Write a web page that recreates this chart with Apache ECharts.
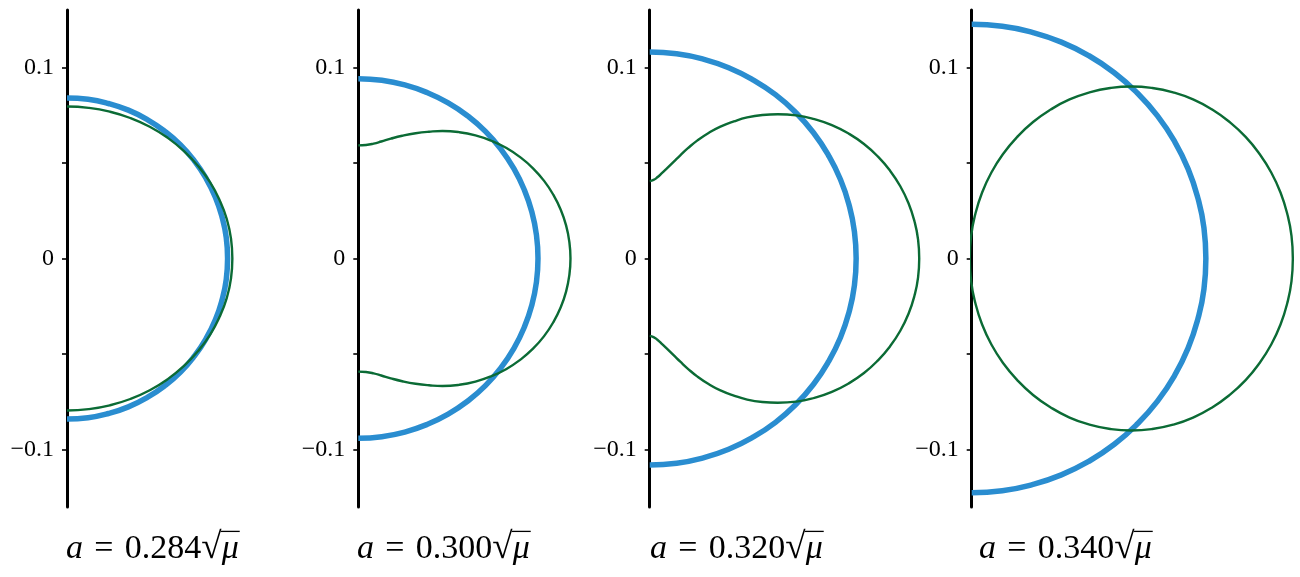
<!DOCTYPE html>
<html>
<head>
<meta charset="utf-8">
<script src="https://cdn.jsdelivr.net/npm/echarts@6/dist/echarts.min.js"></script>
<style>
    html, body { margin: 0; padding: 0; background: #fff; }
    #main { width: 1300px; height: 577px; }
</style>
</head>
<body>
<div id="main"></div>
<script>
// semicircle (blue) and boundary curve (green) for each value of a, [x, y]
var blue1 = [[0, 0.084], [0.011, 0.0833], [0.0217, 0.0811], [0.0321, 0.0776], [0.042, 0.0727], [0.0511, 0.0666], [0.0594, 0.0594],
    [0.0666, 0.0511], [0.0727, 0.042], [0.0776, 0.0321], [0.0811, 0.0217], [0.0833, 0.011], [0.084, 0],
    [0.0833, -0.011], [0.0811, -0.0217], [0.0776, -0.0321], [0.0727, -0.042], [0.0666, -0.0511], [0.0594, -0.0594],
    [0.0511, -0.0666], [0.042, -0.0727], [0.0321, -0.0776], [0.0217, -0.0811], [0.011, -0.0833], [0, -0.084]];
var green1 = [[0, 0.0795], [0.0113, 0.0788], [0.0224, 0.0768], [0.0331, 0.0735], [0.0433, 0.0689], [0.0527, 0.0631], [0.0612, 0.0562],
    [0.0686, 0.0484], [0.0749, 0.0398], [0.0799, 0.0304], [0.0836, 0.0206], [0.0858, 0.0104], [0.0865, 0],
    [0.0858, -0.0104], [0.0836, -0.0206], [0.0799, -0.0304], [0.0749, -0.0398], [0.0686, -0.0484], [0.0612, -0.0562],
    [0.0527, -0.0631], [0.0433, -0.0689], [0.0331, -0.0735], [0.0224, -0.0768], [0.0113, -0.0788], [0, -0.0795]];

var blue2 = [[0, 0.094], [0.0123, 0.0932], [0.0243, 0.0908], [0.036, 0.0868], [0.047, 0.0814], [0.0572, 0.0746], [0.0665, 0.0665],
    [0.0746, 0.0572], [0.0814, 0.047], [0.0868, 0.036], [0.0908, 0.0243], [0.0932, 0.0123], [0.094, 0],
    [0.0932, -0.0123], [0.0908, -0.0243], [0.0868, -0.036], [0.0814, -0.047], [0.0746, -0.0572], [0.0665, -0.0665],
    [0.0572, -0.0746], [0.047, -0.0814], [0.036, -0.0868], [0.0243, -0.0908], [0.0123, -0.0932], [0, -0.094]];
var green2 = [[0, 0.0592], [0.004, 0.0594], [0.008, 0.0601], [0.012, 0.0612], [0.017, 0.0627], [0.023, 0.0642], [0.030, 0.0655],
    [0.037, 0.0663], [0.044, 0.0667], [0.0527, 0.0661], [0.0613, 0.0644], [0.0696, 0.0616], [0.0775, 0.0578], [0.0848, 0.0529],
    [0.0914, 0.0472], [0.0972, 0.0406], [0.102, 0.0334], [0.1059, 0.0255], [0.1087, 0.0173], [0.1104, 0.0087], [0.111, 0],
    [0.1104, -0.0087], [0.1087, -0.0173], [0.1059, -0.0255], [0.102, -0.0334], [0.0972, -0.0406], [0.0914, -0.0472],
    [0.0848, -0.0529], [0.0775, -0.0578], [0.0696, -0.0616], [0.0613, -0.0644], [0.0527, -0.0661], [0.044, -0.0667],
    [0.037, -0.0663], [0.030, -0.0655], [0.023, -0.0642], [0.017, -0.0627], [0.012, -0.0612], [0.008, -0.0601],
    [0.004, -0.0594], [0, -0.0592]];

var blue3 = [[0, 0.108], [0.0141, 0.1071], [0.028, 0.1043], [0.0413, 0.0998], [0.054, 0.0935], [0.0658, 0.0857], [0.0764, 0.0764],
    [0.0857, 0.0658], [0.0935, 0.054], [0.0998, 0.0413], [0.1043, 0.028], [0.1071, 0.0141], [0.108, 0],
    [0.1071, -0.0141], [0.1043, -0.028], [0.0998, -0.0413], [0.0935, -0.054], [0.0857, -0.0658], [0.0764, -0.0764],
    [0.0658, -0.0857], [0.054, -0.0935], [0.0413, -0.0998], [0.028, -0.1043], [0.0141, -0.1071], [0, -0.108]];
var green3 = [[0, 0.0405], [0.002, 0.0411], [0.004, 0.0425], [0.0065, 0.0448], [0.009, 0.0472], [0.0125, 0.0506], [0.016, 0.054],
    [0.020, 0.0577], [0.025, 0.0618], [0.031, 0.0658], [0.037, 0.069], [0.044, 0.0717], [0.051, 0.0738], [0.059, 0.0751],
    [0.067, 0.0755], [0.0767, 0.0749], [0.0862, 0.0729], [0.0953, 0.0698], [0.104, 0.0654], [0.1121, 0.0599], [0.1193, 0.0534],
    [0.1257, 0.046], [0.1311, 0.0378], [0.1354, 0.0289], [0.1385, 0.0195], [0.1404, 0.0099], [0.141, 0],
    [0.1404, -0.0099], [0.1385, -0.0195], [0.1354, -0.0289], [0.1311, -0.0378], [0.1257, -0.046], [0.1193, -0.0534],
    [0.1121, -0.0599], [0.104, -0.0654], [0.0953, -0.0698], [0.0862, -0.0729], [0.0767, -0.0749], [0.067, -0.0755],
    [0.059, -0.0751], [0.051, -0.0738], [0.044, -0.0717], [0.037, -0.069], [0.031, -0.0658], [0.025, -0.0618],
    [0.020, -0.0577], [0.016, -0.054], [0.0125, -0.0506], [0.009, -0.0472], [0.0065, -0.0448], [0.004, -0.0425],
    [0.002, -0.0411], [0, -0.0405]];

var blue4 = [[0, 0.1225], [0.016, 0.1215], [0.0317, 0.1183], [0.0469, 0.1132], [0.0613, 0.1061], [0.0746, 0.0972], [0.0866, 0.0866],
    [0.0972, 0.0746], [0.1061, 0.0613], [0.1132, 0.0469], [0.1183, 0.0317], [0.1215, 0.016], [0.1225, 0],
    [0.1215, -0.016], [0.1183, -0.0317], [0.1132, -0.0469], [0.1061, -0.0613], [0.0972, -0.0746], [0.0866, -0.0866],
    [0.0746, -0.0972], [0.0613, -0.1061], [0.0469, -0.1132], [0.0317, -0.1183], [0.016, -0.1215], [0, -0.1225]];
var green4 = [[-0.001, 0], [-0.0003, 0.0118], [0.0019, 0.0233], [0.0054, 0.0344], [0.0103, 0.045], [0.0165, 0.0548], [0.0238, 0.0636],
    [0.0321, 0.0714], [0.0413, 0.0779], [0.0512, 0.0832], [0.0616, 0.0869], [0.0725, 0.0892], [0.0835, 0.09],
    [0.0945, 0.0892], [0.1054, 0.0869], [0.1158, 0.0832], [0.1258, 0.0779], [0.1349, 0.0714], [0.1433, 0.0636],
    [0.1505, 0.0548], [0.1567, 0.045], [0.1616, 0.0344], [0.1651, 0.0233], [0.1673, 0.0118], [0.168, 0],
    [0.1673, -0.0118], [0.1651, -0.0233], [0.1616, -0.0344], [0.1567, -0.045], [0.1505, -0.0548], [0.1433, -0.0636],
    [0.1349, -0.0714], [0.1258, -0.0779], [0.1158, -0.0832], [0.1054, -0.0869], [0.0945, -0.0892], [0.0835, -0.09],
    [0.0725, -0.0892], [0.0616, -0.0869], [0.0512, -0.0832], [0.0413, -0.0779], [0.0321, -0.0714], [0.0238, -0.0636],
    [0.0165, -0.0548], [0.0103, -0.045], [0.0054, -0.0344], [0.0019, -0.0233], [-0.0003, -0.0118], [-0.001, 0]];

var aValues = ['0.284', '0.300', '0.320', '0.340'];
var yTicks = [-0.1, -0.05, 0, 0.05, 0.1];
var yLabels = [-0.1, 0, 0.1];

var blues = [blue1, blue2, blue3, blue4];
var greens = [green1, green2, green3, green4];

// layout: equal aspect, 0.26 units of y over 497px
var pxPerUnit = 497 / 0.26;
var panelLeft = [67, 358.3, 649.7, 971.7];
var panelXMax = [0.14, 0.14, 0.16, 0.17];
var labelLeft = [66, 357, 650, 979];
var labelBase = 561;

var serif = '"Liberation Serif", "DejaVu Serif", serif';

function fmtTick(v) {
    if (v === 0) return '0';
    return (v < 0 ? '\u2212' : '') + Math.abs(v);
}

var grids = [], xAxes = [], yAxes = [], series = [];
for (var i = 0; i < 4; i++) {
    grids.push({
        left: panelLeft[i],
        top: 10,
        width: panelXMax[i] * pxPerUnit,
        height: 497,
        containLabel: false,
        outerBoundsMode: 'none'
    });
    xAxes.push({
        gridIndex: i,
        type: 'value',
        min: 0,
        max: panelXMax[i],
        show: false
    });
    yAxes.push({
        gridIndex: i,
        type: 'value',
        min: -0.13,
        max: 0.13,
        z: 3,
        axisLine: { show: true, onZero: false, lineStyle: { color: '#000', width: 3 } },
        axisTick: { show: true, length: 5, customValues: yTicks, lineStyle: { color: '#000', width: 1.6 } },
        axisLabel: {
            customValues: yLabels,
            margin: 13,
            color: '#000',
            fontFamily: serif,
            fontSize: 24,
            formatter: fmtTick
        },
        splitLine: { show: false }
    });
    series.push({
        type: 'line',
        xAxisIndex: i,
        yAxisIndex: i,
        data: blues[i],
        smooth: true,
        showSymbol: false,
        silent: true,
        lineStyle: { color: '#2a8dd0', width: 5.5 }
    });
    series.push({
        type: 'line',
        xAxisIndex: i,
        yAxisIndex: i,
        data: greens[i],
        smooth: true,
        showSymbol: false,
        silent: true,
        lineStyle: { color: '#0b6b35', width: 2.4 }
    });
}

// bottom labels  a = 0.xxx sqrt(mu)
var ctx = document.createElement('canvas').getContext('2d');
function textW(t, f) {
    ctx.font = f;
    return ctx.measureText(t).width;
}

var graphics = [];
for (var k = 0; k < 4; k++) {
    var parts = [
        { t: 'a', size: 34, italic: true },
        { t: '\u2004=\u2004' + aValues[k], size: 34 },
        { t: '\u221a', size: 37 },
        { t: '\u03bc', size: 34, italic: true }
    ];
    var x = labelLeft[k];
    var muStart = 0, muEnd = 0, barY = 0;
    for (var p = 0; p < parts.length; p++) {
        var f = (parts[p].italic ? 'italic ' : '') + parts[p].size + 'px ' + serif;
        var w = textW(parts[p].t, f);
        if (p === 2) { barY = labelBase - parts[p].size * 0.8; }
        if (p === 3) { muStart = x; muEnd = x + w; }
        graphics.push({
            type: 'text',
            x: x,
            y: labelBase - parts[p].size * 0.3375,
            silent: true,
            style: {
                text: parts[p].t,
                font: f,
                fill: '#000',
                verticalAlign: 'middle'
            }
        });
        x += w;
    }
    graphics.push({
        type: 'line',
        silent: true,
        shape: { x1: muStart - 1, y1: barY, x2: muEnd + 1, y2: barY },
        style: { stroke: '#000', lineWidth: 1.3 }
    });
}

var option = {
    backgroundColor: '#fff',
    animation: false,
    grid: grids,
    xAxis: xAxes,
    yAxis: yAxes,
    series: series,
    graphic: graphics
};

var myChart = echarts.init(document.getElementById('main'));
myChart.setOption(option);
</script>
</body>
</html>
